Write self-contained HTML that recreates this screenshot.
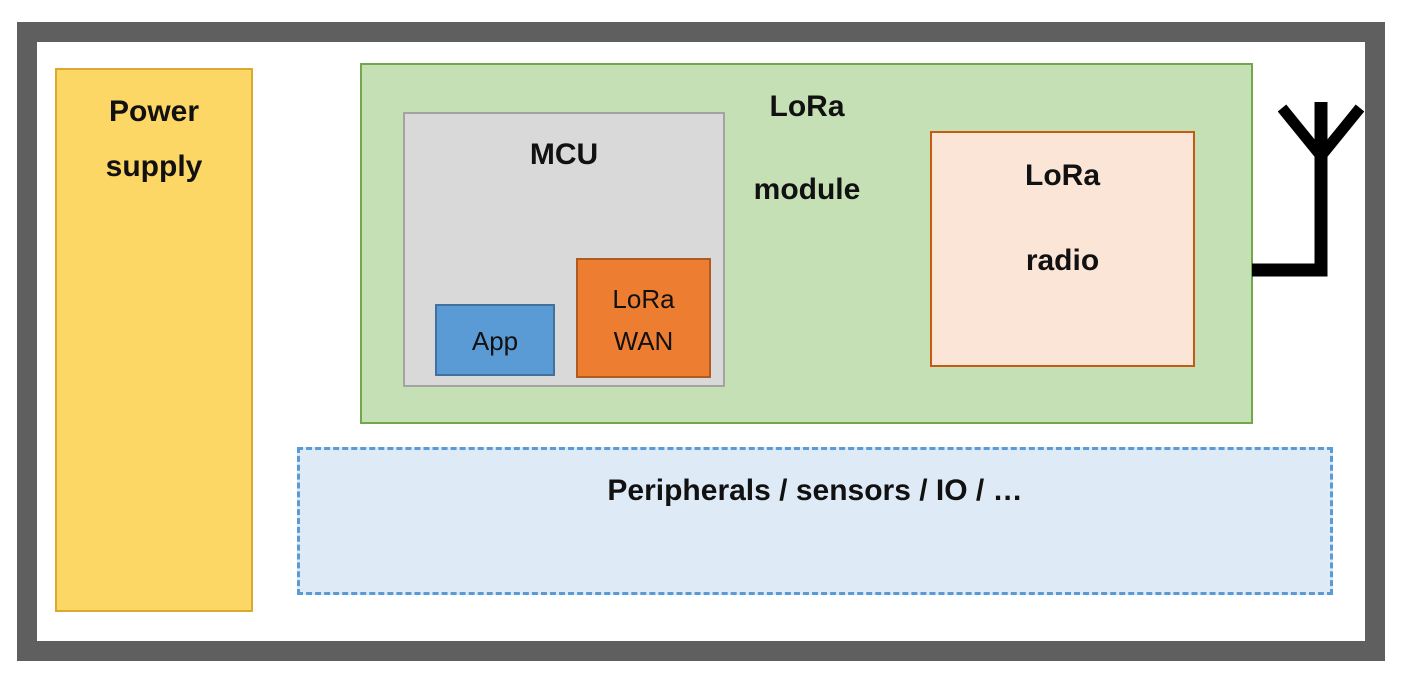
<!DOCTYPE html>
<html><head><style>
body{margin:0;width:1402px;height:676px;background:#fff;position:relative;overflow:hidden;font-family:"Liberation Sans",sans-serif;font-weight:bold;color:#111}
div{position:absolute;box-sizing:border-box}
.t{position:absolute;text-align:center;width:100%}
</style></head><body>
<div style="left:17px;top:22px;width:1368px;height:639px;border:20px solid #5f5f5f"></div>
<div style="left:55px;top:68px;width:198px;height:544px;background:#fdd766;border:2px solid #d9aa2e">
<div class="t" style="top:14px;font-size:30px;line-height:55px">Power<br>supply</div></div>
<div style="left:360px;top:63px;width:893px;height:361px;background:#c6e0b5;border:2px solid #71a84b">
<div class="t" style="left:0;top:0px;width:890px;font-size:30px;line-height:83px">LoRa<br>module</div></div>
<div style="left:403px;top:112px;width:322px;height:275px;background:#d9d9d9;border:2px solid #a3a3a3">
<div class="t" style="top:24px;font-size:30px">MCU</div></div>
<div style="left:435px;top:304px;width:120px;height:72px;background:#5b9bd5;border:2px solid #41719c;font-weight:normal">
<div class="t" style="top:20px;font-size:26px">App</div></div>
<div style="left:576px;top:258px;width:135px;height:120px;background:#ed7d31;border:2px solid #ae5a21;font-weight:normal">
<div class="t" style="top:18px;font-size:26px;line-height:42px">LoRa<br>WAN</div></div>
<div style="left:930px;top:131px;width:265px;height:236px;background:#fbe5d6;border:2px solid #c55a11">
<div class="t" style="top:0px;font-size:30px;line-height:85px">LoRa<br>radio</div></div>
<div style="left:297px;top:447px;width:1036px;height:148px;background:#deebf7;border:3px dashed #5b9bd5">
<div class="t" style="top:24px;font-size:30px">Peripherals / sensors / IO / …</div></div>
<svg style="position:absolute;left:0;top:0" width="1402" height="676">
<polyline points="1252,270 1321,270 1321,102" fill="none" stroke="#000" stroke-width="13"/>
<polyline points="1282,108 1321,156 1360,108" fill="none" stroke="#000" stroke-width="11"/>
</svg>
</body></html>
